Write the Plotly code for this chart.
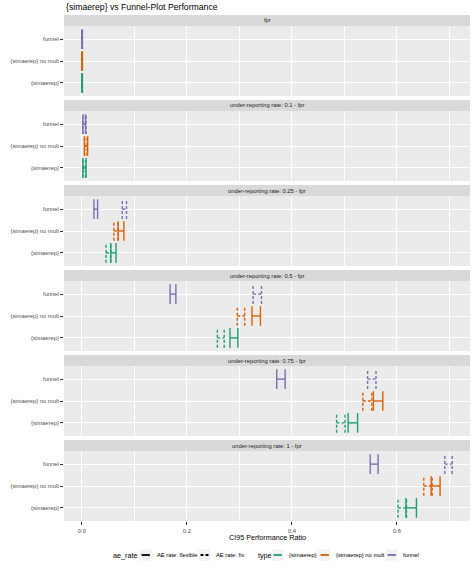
import plotly.graph_objects as go

# ---------------- data ----------------
facets = ["fpr",
          "under-reporting rate: 0.1 - fpr",
          "under-reporting rate: 0.25 - fpr",
          "under-reporting rate: 0.5 - fpr",
          "under-reporting rate: 0.75 - fpr",
          "under-reporting rate: 1 - fpr"]
types = ["{simaerep}", "{simaerep} no mult", "funnel"]
ae_rates = ["AE rate: flexible", "AE rate: fix"]

# CI95 lower / upper bounds per facet (order of `facets`)
simaerep_flexible_lo = [0.000, 0.002, 0.055, 0.282, 0.507, 0.617]
simaerep_flexible_hi = [0.001, 0.008, 0.065, 0.297, 0.525, 0.637]
nomult_flexible_lo   = [0.000, 0.005, 0.069, 0.324, 0.555, 0.665]
nomult_flexible_hi   = [0.001, 0.011, 0.080, 0.340, 0.573, 0.682]
funnel_flexible_lo   = [0.000, 0.002, 0.023, 0.168, 0.371, 0.549]
funnel_flexible_hi   = [0.001, 0.007, 0.030, 0.179, 0.387, 0.564]

simaerep_fix_lo = [0.000, 0.002, 0.046, 0.258, 0.485, 0.602]
simaerep_fix_hi = [0.001, 0.007, 0.055, 0.271, 0.501, 0.618]
nomult_fix_lo   = [0.000, 0.005, 0.061, 0.296, 0.535, 0.651]
nomult_fix_hi   = [0.001, 0.010, 0.069, 0.310, 0.552, 0.667]
funnel_fix_lo   = [0.000, 0.002, 0.077, 0.326, 0.544, 0.691]
funnel_fix_hi   = [0.001, 0.008, 0.085, 0.342, 0.560, 0.705]

x_tickvals = [0.0, 0.2, 0.4, 0.6]
x_ticktext = ["0.0", "0.2", "0.4", "0.6"]

data = {
    ("AE rate: flexible", "{simaerep}"): (simaerep_flexible_lo, simaerep_flexible_hi),
    ("AE rate: flexible", "{simaerep} no mult"): (nomult_flexible_lo, nomult_flexible_hi),
    ("AE rate: flexible", "funnel"): (funnel_flexible_lo, funnel_flexible_hi),
    ("AE rate: fix", "{simaerep}"): (simaerep_fix_lo, simaerep_fix_hi),
    ("AE rate: fix", "{simaerep} no mult"): (nomult_fix_lo, nomult_fix_hi),
    ("AE rate: fix", "funnel"): (funnel_fix_lo, funnel_fix_hi),
}

colors = {"{simaerep}": "#1B9E77", "{simaerep} no mult": "#D95F02", "funnel": "#7570B3"}
dashes = {"AE rate: flexible": "solid", "AE rate: fix": "3px,2px"}

# ---------------- geometry ----------------
W, H = 474, 568
PL, PR = 64, 470
STRIP_TOP0, STRIP_H, PANEL_H, PERIOD = 15, 11, 70, 85
FONT = "Liberation Sans, Arial, sans-serif"
HALF = 0.45  # whisker half height (category units)


def px(x):
    return x / W


def py(y):
    return 1 - y / H


fig = go.Figure()
layout = dict(width=W, height=H, autosize=False,
              margin=dict(l=0, r=0, t=0, b=0),
              paper_bgcolor="white", plot_bgcolor="#EBEBEB",
              showlegend=False, font=dict(family=FONT))
shapes, annotations = [], []

for f, facet in enumerate(facets):
    sfx = "" if f == 0 else str(f + 1)
    strip_top = STRIP_TOP0 + PERIOD * f
    p_top = strip_top + STRIP_H
    p_bot = p_top + PANEL_H
    last = f == len(facets) - 1

    layout["xaxis" + sfx] = dict(
        domain=[px(PL), px(PR)], range=[-0.034, 0.739], anchor="y" + sfx,
        tickvals=x_tickvals, ticktext=x_ticktext,
        showticklabels=last, ticks="outside" if last else "", ticklen=3,
        tickcolor="#333333", tickwidth=1, ticklabelstandoff=1,
        tickfont=dict(size=5.8, color="#4D4D4D", family=FONT),
        showgrid=True, gridcolor="white", gridwidth=1, zeroline=False, showline=False,
        minor=dict(tick0=0, dtick=0.1, showgrid=True, gridcolor="white", gridwidth=0.5),
        **({} if f == 0 else {"matches": "x"}))
    layout["yaxis" + sfx] = dict(
        domain=[py(p_bot), py(p_top)], range=[0.4, 3.6], anchor="x" + sfx,
        tickvals=[1, 2, 3], ticktext=types, ticks="outside", ticklen=3,
        tickcolor="#333333", tickwidth=1,
        tickfont=dict(size=5.8, color="#4D4D4D", family=FONT),
        showgrid=True, gridcolor="white", gridwidth=1, zeroline=False, showline=False)

    # strip
    shapes.append(dict(type="rect", xref="paper", yref="paper",
                       x0=px(PL), x1=px(PR), y0=py(p_top), y1=py(strip_top),
                       fillcolor="#D9D9D9", line=dict(width=0), layer="below"))
    annotations.append(dict(text=facet, xref="paper", yref="paper",
                            x=px((PL + PR) / 2), y=py(strip_top + STRIP_H / 2),
                            xanchor="center", yanchor="middle", showarrow=False,
                            font=dict(size=5.8, color="#1A1A1A", family=FONT)))

    for ae in ae_rates:
        for ti, t in enumerate(types):
            lo = data[(ae, t)][0][f]
            hi = data[(ae, t)][1][f]
            yc = ti + 1
            xs = [lo, lo, None, lo, hi, None, hi, hi]
            ys = [yc - HALF, yc + HALF, None, yc, yc, None, yc - HALF, yc + HALF]
            fig.add_trace(go.Scatter(x=xs, y=ys, mode="lines",
                                     line=dict(color=colors[t], width=1.4, dash=dashes[ae]),
                                     xaxis="x" + sfx, yaxis="y" + sfx,
                                     hoverinfo="skip", showlegend=False))

# title
annotations.append(dict(text="{simaerep} vs Funnel-Plot Performance", xref="paper", yref="paper",
                        x=px(PL), y=py(7.5), xanchor="left", yanchor="middle", showarrow=False,
                        font=dict(size=8.7, color="black", family=FONT)))
# x axis title
annotations.append(dict(text="CI95 Performance Ratio", xref="paper", yref="paper",
                        x=px((PL + PR) / 2), y=py(537.5), xanchor="center", yanchor="middle",
                        showarrow=False, font=dict(size=7.2, color="black", family=FONT)))

# legend (ggplot-style, bottom)
LY = 555
KEY = 11.4


def legend_text(text, x, size=5.8):
    annotations.append(dict(text=text, xref="paper", yref="paper", x=px(x), y=py(LY),
                            xanchor="left", yanchor="middle", showarrow=False,
                            font=dict(size=size, color="black", family=FONT)))


def legend_key(x0, color, dash):
    shapes.append(dict(type="rect", xref="paper", yref="paper",
                       x0=px(x0), x1=px(x0 + KEY), y0=py(LY + KEY / 2), y1=py(LY - KEY / 2),
                       fillcolor="#F2F2F2", line=dict(width=0)))
    shapes.append(dict(type="line", xref="paper", yref="paper",
                       x0=px(x0 + 1.5), x1=px(x0 + KEY - 1.5), y0=py(LY), y1=py(LY),
                       line=dict(color=color, width=1.8, dash=dash)))


legend_text("ae_rate", 111, 7.2)
legend_key(140, "black", dashes[ae_rates[0]])
legend_text(ae_rates[0], 155)
legend_key(199, "black", dashes[ae_rates[1]])
legend_text(ae_rates[1], 214)
legend_text("type", 256, 7.2)
legend_key(272, colors[types[0]], "solid")
legend_text(types[0], 287)
legend_key(319, colors[types[1]], "solid")
legend_text(types[1], 334)
legend_key(386, colors[types[2]], "solid")
legend_text(types[2], 401)

layout["shapes"] = shapes
layout["annotations"] = annotations
fig.update_layout(**layout)
fig.write_html("out.html")
